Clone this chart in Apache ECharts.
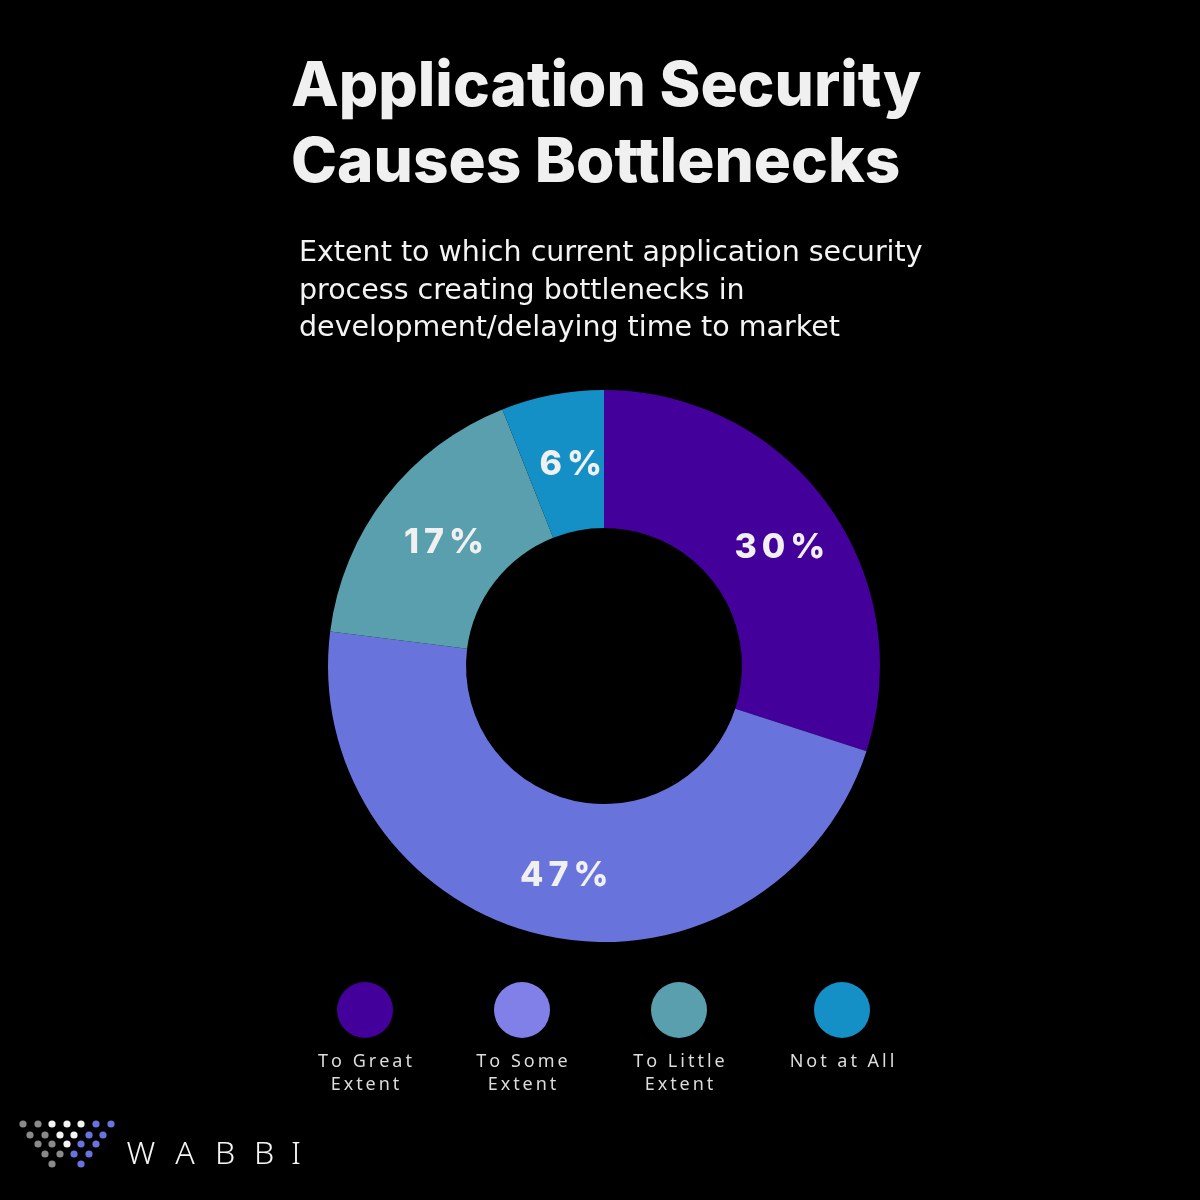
<!DOCTYPE html>
<html><head><meta charset="utf-8">
<script src="https://cdn.jsdelivr.net/npm/echarts@6/dist/echarts.min.js"></script>
<style>html,body{margin:0;padding:0;background:#000;}#c{width:1200px;height:1200px;}</style>
</head><body><div id="c"></div>
<script>
const categories = ["To Great Extent", "To Some Extent", "To Little Extent", "Not at All"];
const legendLabels = ["To Great\nExtent", "To Some\nExtent", "To Little\nExtent", "Not at All"];
const values = [30, 47, 17, 6];
const sliceColors = ["#44009a", "#6874dc", "#5a9fad", "#1490c6"];
const legendColors = ["#44009a", "#8080e8", "#5a9fad", "#1490c6"];
const titleText = "Application Security\nCauses Bottlenecks";
const subtitleText = "Extent to which current application security\nprocess creating bottlenecks in\ndevelopment/delaying time to market";

function spaced(s, sep) { return s.split('\n').map(l => l.split('').join(sep)).join('\n'); }

const chart = echarts.init(document.getElementById('c'));
const graphics = [];
const legendX = [365, 522, 679, 842];
categories.forEach((c, i) => {
  const x = legendX[i];
  graphics.push({ type: 'circle', shape: { cx: x, cy: 1010, r: 28 }, style: { fill: legendColors[i] } });
  graphics.push({ type: 'text', x: x, y: 1050, style: { text: spaced(legendLabels[i], '\u2009'), fill: '#dcdcdc', font: '18px "Noto Sans"', align: 'center', verticalAlign: 'top', lineHeight: 23 } });
});
// logo
const dotRows = [
  { y: 1124, xs: [23, 38, 52, 67, 81, 96, 111], c: ['g','g','w','w','w','b','b'] },
  { y: 1135, xs: [30, 45, 60, 74, 89, 103], c: ['g','g','w','w','b','b'] },
  { y: 1144, xs: [38, 52, 67, 81, 96], c: ['g','g','w','b','b'] },
  { y: 1154, xs: [45, 60, 74, 89], c: ['g','g','b','b'] },
  { y: 1164, xs: [52, 81], c: ['g','b'] }
];
const dotCol = { g: '#8a8a8a', w: '#f4f4f4', b: '#6a72e0' };
dotRows.forEach(r => r.xs.forEach((x, j) => graphics.push({ type: 'circle', shape: { cx: x, cy: r.y, r: 3.6 }, style: { fill: dotCol[r.c[j]] } })));
const logoLetters = ['W', 'A', 'B', 'B', 'I'];
const logoX = [141, 185, 225, 264, 296];
logoLetters.forEach((l, i) => graphics.push({ type: 'text', x: logoX[i], y: 1155, style: { text: l, fill: '#f4f4f4', font: '300 32px "Noto Sans"', align: 'center', verticalAlign: 'middle' } }));

chart.setOption({
  backgroundColor: '#000',
  title: [
    { text: titleText, left: 286, top: 44, textStyle: { color: '#f0f0f0', fontSize: 62, fontWeight: 800, fontFamily: 'Inter', lineHeight: 76 } },
    { text: subtitleText, left: 294, top: 230, textStyle: { color: '#f4f4f4', fontSize: 28.5, fontWeight: 'normal', fontFamily: '"DejaVu Sans"', lineHeight: 37.5 } }
  ],
  graphic: graphics,
  series: [{
    type: 'pie',
    center: [604, 666],
    radius: [138, 276],
    startAngle: 90,
    clockwise: true,
    silent: true,
    data: categories.map((c, i) => ({ name: c, value: values[i], itemStyle: { color: sliceColors[i] } })),
    label: {
      show: true, position: 'inside',
      formatter: p => spaced(p.value + '%', '\u2009'),
      color: '#f0f0f0', fontSize: 34, fontWeight: 800, fontFamily: 'Inter',
      offset: [6, 5]
    },
    labelLine: { show: false },
    emphasis: { disabled: true }
  }]
});
</script></body></html>
